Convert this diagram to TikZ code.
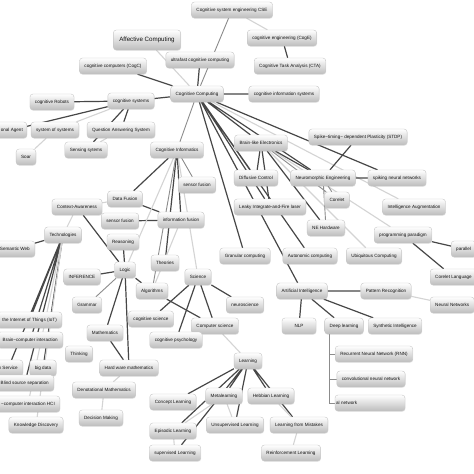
\documentclass[tikz,border=0pt]{standalone}
\usepackage{fontspec}
\setmainfont{Liberation Sans}
\usetikzlibrary{backgrounds,shadows}

\begin{document}
\begin{tikzpicture}[x=1pt,y=-1pt,
topic/.style ={rectangle, draw=black!22, top color=white, bottom color=black!26,
  rounded corners=3pt, text=black!92, font=\fontsize{4.6}{5}\selectfont,
  inner xsep=5pt, inner ysep=1pt, minimum height=16pt,
  drop shadow={opacity=0.15, shadow xshift=0.4pt, shadow yshift=-0.8pt}
},
bigtopic/.style ={topic, font=\fontsize{6.2}{7}\selectfont,
  inner xsep=6pt, minimum height=20pt
},
lk/.style ={draw=black!72, line width=1.2pt},
lkm/.style ={draw=black!45, line width=0.9pt},
lkl/.style ={draw=black!17, line width=1.1pt}]
\useasboundingbox (0,0) rectangle (474,474);
% top part
\node (cse) at (232,10) [topic] {Cognitive system engineering CSE};
\node (affc) at (147,40) [bigtopic] {Affective Computing};
\node (coge) at (282,38) [topic] {cognitive engineering (CogE)};
\node (cogc) at (113,66) [topic] {cognitive computers (CogC)};
\node (ufcc) at (200,60) [topic] {ultrafast cognitive computing};
\node (cta) at (290,66) [topic] {Cognitive Task Analysis (CTA)};
\node (cc) at (197,94) [topic] {Cognitive Computing};
\node (cis) at (284,94) [topic] {cognitive information systems};
\node (robots) at (52,102) [topic] {cognitive Robots};
\node (csys) at (131,101) [topic] {cognitive systems};
\node (agent) at (27,130) [topic, anchor=east, inner xsep=4pt] {onal Agent};
\node (sos) at (55,130) [topic] {system of systems};
\node (qas) at (121,130) [topic] {Question Answering System};
\node (soar) at (26,157) [topic] {Soar};
\node (sensing) at (86,150) [topic] {Sensing sytems};
% middle part
\node (ci) at (177,150) [topic] {Cognitive Informatics};
\node (ble) at (261,143) [topic] {Brain-like Electronics};
\node (stdp) at (358,137) [topic] {Spike−timing− dependent Plasticity (STDP)};
\node (sfr) at (197,185) [topic] {sensor fusion};
\node (diff) at (256,178) [topic] {Diffusive Control};
\node (neuro) at (323,178) [topic] {Neuromorphic Engineering};
\node (spike) at (397,178) [topic] {spiking neural networks};
\node (ctx) at (77,207) [topic] {Context-Awareness};
\node (dfus) at (125,199) [topic] {Data Fusion};
\node (corelet) at (337,200) [topic] {Corelet};
\node (leaky) at (270,207) [topic] {Leaky Integrate-and-Fire laser};
\node (ia) at (414,207) [topic] {Intelligence Augmentation};
\node (sfl) at (120,221) [topic] {sensor fusion};
\node (ifus) at (181,220) [topic] {information fusion};
\node (tech) at (63,235) [topic] {Technologies};
\node (neh) at (326,228) [topic] {NE Hardware};
\node (pp) at (403,235) [topic] {programming paradigm};
\node (reas) at (123,242) [topic] {Reasoning};
\node (semweb) at (35,249) [topic, anchor=east] {Semantic Web};
\node (parallel) at (451,249) [topic, anchor=west] {parallel};
\node (gran) at (245,256) [topic] {Granular computing};
\node (auto) at (310,256) [topic] {Autonomic computing};
\node (ubi) at (374,256) [topic] {Ubiquitous Computing};
\node (theo) at (165,263) [topic] {Theories};
\node (logic) at (125,270) [topic] {Logic};
\node (inf) at (82,277) [topic] {INFERENCE};
\node (sci) at (198,277) [topic] {Science};
\node (cll) at (430,277) [topic, anchor=west] {Corelet Language};
\node (alg) at (152,291) [topic] {Algorithms};
\node (ai) at (302,291) [topic] {Artificial Intelligence};
\node (pr) at (386,291) [topic] {Pattern Recognition};
\node (gram) at (87,305) [topic] {Grammar};
\node (neurosci) at (245,305) [topic] {neuroscience};
\node (nn) at (430,305) [topic, anchor=west] {Neural Networks};
% lower part
\node (iot) at (62,320) [topic, anchor=east] {the Internet of Things (IoT)};
\node (cogsci) at (151,319) [topic] {cognitive science};
\node (cs) at (215,326) [topic] {Computer science};
\node (nlp) at (299,326) [topic, minimum width=34pt] {NLP};
\node (dl) at (344,326) [topic] {Deep learning};
\node (si) at (395,326) [topic] {Synthetic Intelligence};
\node (math) at (105,333) [topic] {Mathematics};
\node (bci) at (63,340) [topic, anchor=east] {Brain−computer interaction};
\node (cogpsy) at (176,340) [topic] {cognitive psychology};
\node (think) at (79,354) [topic] {Thinking};
\node (rnn) at (374,354) [topic] {Recurrent Neural Network (RNN)};
\node (learn) at (248,361) [topic] {Learning};
\node (hwm) at (129,368) [topic] {Hard ware mathematics};
\node (serv) at (23,368) [topic, anchor=east] {n Service};
\node (bigd) at (43,368) [topic] {big data};
\node (cnn) at (371,379) [topic] {convolutional neural network};
\node (bss) at (54,383) [topic, anchor=east] {Blind source separation};
\node (denm) at (104,390) [topic] {Denotational Mathematics};
\node (meta) at (224,396) [topic] {Metalearning};
\node (hebb) at (271,396) [topic] {Hebbian Learning};
\node (concept) at (173,402) [topic] {Concept Learning};
\node (ann) at (370,403) [topic, inner xsep=1pt, text width=68pt, align=left] {al network};
\node (hci) at (60,404) [topic, anchor=east] {−computer interaction HCI};
\node (decm) at (101,418) [topic] {Decision Making};
\node (kd) at (36,425) [topic] {Knowledge Discovery};
\node (unsup) at (235,425) [topic] {Unsupervised Learning};
\node (lfm) at (299,425) [topic] {Learning from Mistakes};
\node (episodic) at (173,431) [topic] {Episodic Learning};
\node (sup) at (175,453) [topic] {supervised Learning};
\node (rl) at (291,453) [topic] {Reinforcement Learning};
% connectors
\begin{pgfonlayer}{background}
\fill[white] (0,0) rectangle (474,474);
\draw[lkm] (cc) -- (cse) (cc) -- (ci);
\draw[lkl] (cc) -- (affc) (cse) -- (coge);
\draw[lk] (cc) -- (ufcc) (cc) -- (cogc) (cc) -- (csys) (cc) -- (cis) (coge) -- (cta);
\draw[lk] (cc) -- (ble) (cc) -- (neuro) (cc) -- (spike) (cc) -- (diff)
  (cc) -- (leaky) (cc) -- (gran) (cc) -- (auto) (cc) -- (ai);
\draw[lkl] (cc) -- (ia) (ble) -- (pp) (ble) -- (ubi);
\draw[lk] (csys) -- (robots) (csys) -- (agent) (csys) -- (qas) (csys) -- (sensing);
\draw[lkl] (csys) -- (sos) (sos) -- (soar) (qas) -- (sensing);
\draw[lk] (ble) -- (diff) (ble) -- (leaky) (ble) -- (neuro) (ble) -- (neh)
  (stdp) -- (neuro) (neuro) -- (spike);
\draw[lkm] (ble) -- (corelet) (neuro) -- (corelet) (neuro) -- (neh);
\draw[lk] (pp) -- (parallel) (pp) -- (cll) (ai) -- (pr) (ai) -- (nlp)
  (ai) -- (dl) (ai) -- (si);
\draw[lkl] (pr) -- (nn);
\draw[lkm] ([xshift=-15pt]dl.south) |- (rnn.west)
  ([xshift=-15pt]dl.south) |- (cnn.west) ([xshift=-15pt]dl.south) |- (ann.west);
\draw[lk] (ci) -- (dfus) (ci) -- (ifus) (ci) -- (theo) (dfus) -- (ifus) (sfl) -- (ifus);
\draw[lkm] (ci) -- (sfr) (ci) -- (alg);
\draw[lkl] (ci) -- (logic) (ci) -- (sci) (ctx) -- (dfus) (ctx) -- (tech) (ifus) -- (alg);
\draw[lk] (ctx) -- (logic) (reas) -- (logic) (inf) -- (logic) (logic) -- (alg)
  (logic) -- (math) (logic) -- (hwm) (math) -- (hwm) (alg) -- (cs);
\draw[lkm] (logic) -- (gram);
\draw[lkl] (hwm) -- (denm) (denm) -- (decm);
\draw[lk] (tech) -- (semweb) (tech) -- (iot) (tech) -- (bci) (tech) -- (bigd)
  (tech) -- (serv) (tech) -- (bss);
\draw[lkl] (tech) -- (hci) (tech) -- (kd);
\draw[lk] (sci) -- (cogsci) (sci) -- (cogpsy) (sci) -- (cs) (sci) -- (neurosci);
\draw[lkl] (cs) -- (learn);
\draw[lk] (learn) -- (concept) (learn) -- (meta) (learn) -- (unsup) (learn) -- (episodic)
  (learn) -- (sup) (learn) -- (hebb) (learn) -- (lfm);
\draw[lkl] (meta) -- (episodic) (meta) -- (unsup) (hebb) -- (lfm) (lfm) -- (rl)
  (episodic) -- (sup);
\end{pgfonlayer}
\end{tikzpicture}
\end{document}
